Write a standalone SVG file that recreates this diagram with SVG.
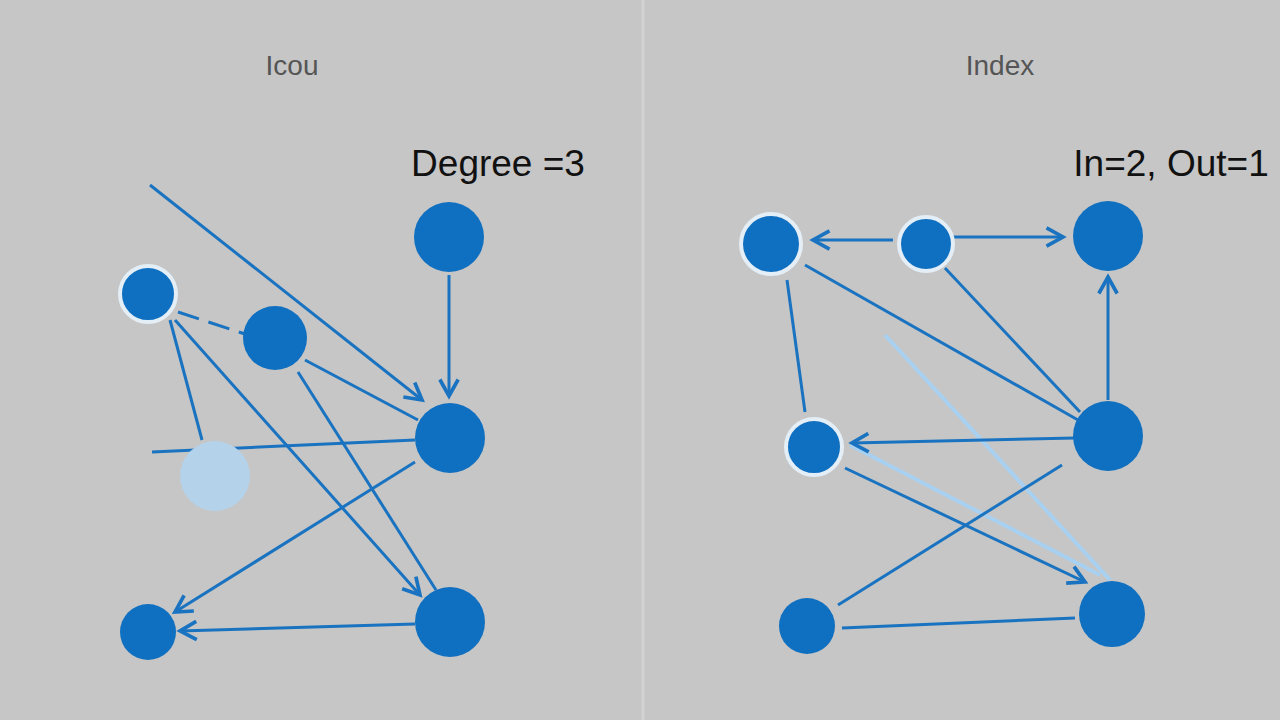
<svg xmlns="http://www.w3.org/2000/svg" width="1280" height="720" viewBox="0 0 1280 720">
<defs>
<marker id="arb" viewBox="0 0 12 12" refX="10" refY="6" markerWidth="22" markerHeight="22" markerUnits="userSpaceOnUse" orient="auto"><path d="M1,1 L10,6 L1,11" fill="none" stroke="#1a73c0" stroke-width="2"/></marker>
</defs>
<style>
.n{fill:#0f6fc0}
.h{fill:#0f6fc0;stroke:#e4eef6;stroke-width:4}
.e{stroke:#1a73c0;stroke-width:3;fill:none}
.l{stroke:#a8d0f0;stroke-width:4;fill:none}
.t{font-family:"Liberation Sans",Arial,sans-serif;fill:#111}
.ti{font-family:"Liberation Sans",Arial,sans-serif;fill:#555;font-size:28px}
</style>
<rect width="1280" height="720" fill="#c6c6c6"/>
<line x1="643" y1="0" x2="643" y2="720" stroke="#d2d2d2" stroke-width="3"/>
<text class="ti" x="292" y="75" text-anchor="middle">Icou</text>
<text class="ti" x="1000" y="75" text-anchor="middle">Index</text>
<text class="t" x="498" y="176" text-anchor="middle" font-size="37">Degree =3</text>
<text class="t" x="1171" y="176" text-anchor="middle" font-size="37">In=2, Out=1</text>
<g id="connectors">
<line class="e" x1="150" y1="185" x2="422" y2="400" stroke-width="2" marker-end="url(#arb)"/>
<line class="e" x1="449" y1="275" x2="449" y2="396" stroke-width="2" marker-end="url(#arb)"/>
<line class="e" x1="178" y1="312" x2="245" y2="334" stroke-dasharray="22 10"/>
<line class="e" x1="305" y1="360" x2="418" y2="420"/>
<line class="e" x1="170" y1="320" x2="202" y2="440"/>
<line class="e" x1="175" y1="320" x2="420" y2="595" marker-end="url(#arb)"/>
<line class="e" x1="298" y1="372" x2="436" y2="590"/>
<line class="e" x1="152" y1="452" x2="415" y2="440"/>
<line class="e" x1="415" y1="462" x2="175" y2="612" marker-end="url(#arb)"/>
<line class="e" x1="415" y1="624" x2="180" y2="631" marker-end="url(#arb)"/>
<line class="l" x1="885" y1="335" x2="1110" y2="580"/>
<line class="l" x1="850" y1="445" x2="1100" y2="575"/>
<line class="e" x1="893" y1="240" x2="813" y2="240" marker-end="url(#arb)"/>
<line class="e" x1="953" y1="237" x2="1063" y2="237" marker-end="url(#arb)"/>
<line class="e" x1="1108" y1="400" x2="1108" y2="277" marker-end="url(#arb)"/>
<line class="e" x1="805" y1="265" x2="1078" y2="420"/>
<line class="e" x1="945" y1="268" x2="1080" y2="412"/>
<line class="e" x1="787" y1="280" x2="805" y2="412"/>
<line class="e" x1="1075" y1="438" x2="852" y2="443" marker-end="url(#arb)"/>
<line class="e" x1="845" y1="468" x2="1085" y2="582" marker-end="url(#arb)"/>
<line class="e" x1="838" y1="605" x2="1062" y2="465"/>
<line class="e" x1="842" y1="628" x2="1075" y2="618"/>
</g>
<g id="a"><circle class="h" cx="148" cy="294" r="28"/></g>
<g id="b"><circle class="n" cx="275" cy="338" r="32"/></g>
<g id="c"><circle class="n" cx="449" cy="237" r="35"/></g>
<g id="d"><circle class="n" cx="450" cy="438" r="35"/></g>
<g id="e"><circle cx="215" cy="476" r="35" fill="#b4d2ea"/></g>
<g id="f"><circle class="n" cx="148" cy="632" r="28"/></g>
<g id="g"><circle class="n" cx="450" cy="622" r="35"/></g>
<g id="h"><circle class="h" cx="771" cy="244" r="30"/></g>
<g id="i"><circle class="h" cx="926" cy="244" r="27"/></g>
<g id="j"><circle class="n" cx="1108" cy="236" r="35"/></g>
<g id="k"><circle class="h" cx="814" cy="447" r="28"/></g>
<g id="l"><circle class="n" cx="1108" cy="436" r="35"/></g>
<g id="m"><circle class="n" cx="807" cy="626" r="28"/></g>
<g id="nn"><circle class="n" cx="1112" cy="614" r="33"/></g>
</svg>
